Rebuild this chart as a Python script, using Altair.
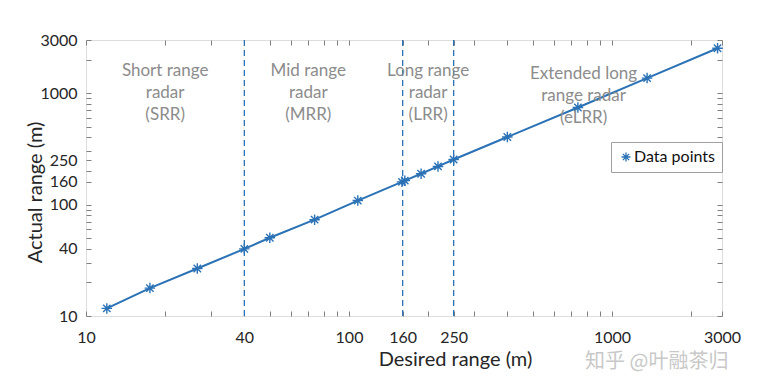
import altair as alt
import pandas as pd

# ---- data ----
desired = [12, 17.5, 26.5, 40, 50, 74, 108, 159, 163, 188, 218, 250, 400, 742, 1360, 2520]
actual = [11.7, 17.8, 26.7, 40, 50.4, 73.2, 108.7, 160, 164, 189, 220, 254, 404, 743, 1365, 2528]
series = ["Data points"] * len(desired)

boundaries = [40, 160, 250]

region_labels = ["Short range\nradar\n(SRR)", "Mid range\nradar\n(MRR)",
                 "Long range\nradar\n(LRR)", "Extended long\nrange radar\n(eLRR)"]
region_x = [20, 70, 200, 780]
region_y = [1850, 1850, 1850, 1750]

x_tick_values = [10, 40, 100, 160, 250, 1000, 2620]
x_tick_labels = ["10", "40", "100", "160", "250", "1000", "3000"]
y_tick_values = [10, 40, 100, 160, 250, 1000, 3000]
y_tick_labels = ["10", "40", "100", "160", "250", "1000", "3000"]
minor_ticks = [20, 30, 50, 60, 70, 80, 90, 200, 300, 400, 500, 600, 700, 800, 900, 2000]

x_domain = [10, 2620]
y_domain = [10, 3000]

watermark = "知乎 @叶融茶归"

# ---- layout / style ----
W, H = 636, 276
TL = 5  # inward tick length
BLUE = "#2a72b5"
TICK = "#808080"
FONT = "Lato"
STAR = "M0,-1L0,1M-1,0L1,0M-0.7,-0.7L0.7,0.7M-0.7,0.7L0.7,-0.7"

df = pd.DataFrame({"desired": desired, "actual": actual, "series": series})
bdf = pd.DataFrame({"b": boundaries})
tdf = pd.DataFrame({"x": region_x, "y": region_y, "label": region_labels})
wdf = pd.DataFrame({"t": [watermark]})

xs = alt.Scale(type="log", domain=x_domain, nice=False)
ys = alt.Scale(type="log", domain=y_domain, nice=False)


def label_expr(values, labels):
    vals = "[" + ",".join(str(v) for v in values) + "]"
    labs = "[" + ",".join("'%s'" % s for s in labels) + "]"
    return "indexof({v}, datum.value) >= 0 ? {l}[indexof({v}, datum.value)] : ''".format(v=vals, l=labs)


x_all = sorted(x_tick_values + minor_ticks)
y_all = sorted(y_tick_values + minor_ticks)

common = dict(domain=False, grid=False, tickColor=TICK, tickSize=TL, tickWidth=1, offset=-TL)

x_bottom = alt.Axis(values=x_all, labelExpr=label_expr(x_tick_values, x_tick_labels),
                    labelFont=FONT, labelFontSize=16, labelColor="#262626", labelPadding=13,
                    labelFlush=False, labelOverlap=False,
                    title="Desired range  (m)", titleFont=FONT, titleFontSize=20,
                    titleFontWeight="normal", titleColor="#262626",
                    titleX=369, titleY=43 + TL, titleAlign="center", titleBaseline="middle",
                    **common)
y_left = alt.Axis(values=y_all, labelExpr=label_expr(y_tick_values, y_tick_labels),
                  labelFont=FONT, labelFontSize=16, labelColor="#262626", labelPadding=9,
                  labelFlush=False, labelOverlap=False,
                  title="Actual range (m)", titleFont=FONT, titleFontSize=20,
                  titleFontWeight="normal", titleColor="#262626",
                  titleX=-51 - TL, titleY=152, titleAngle=270, titleAlign="center",
                  titleBaseline="middle", **common)
x_top = alt.Axis(orient="top", values=x_all, labels=False, title=None, **common)
y_right = alt.Axis(orient="right", values=y_all, labels=False, title=None, **common)

line = alt.Chart(df).mark_line(color=BLUE, strokeWidth=2).encode(
    x=alt.X("desired:Q", scale=xs, axis=x_bottom),
    y=alt.Y("actual:Q", scale=ys, axis=y_left),
    order="desired:Q",
)

points = alt.Chart(df).mark_point(shape=STAR, filled=False, size=110, strokeWidth=1.4, opacity=1).encode(
    x=alt.X("desired:Q", scale=xs, axis=x_top),
    y=alt.Y("actual:Q", scale=ys, axis=y_right),
    color=alt.Color("series:N", scale=alt.Scale(range=[BLUE]),
                    legend=alt.Legend(title=None, orient="none", legendX=525, legendY=102,
                                      fillColor="white", strokeColor="#a0a0a0", padding=7,
                                      labelFont=FONT, labelFontSize=16, labelColor="#111111",
                                      symbolType=STAR, symbolSize=80, symbolStrokeWidth=1.3,
                                      symbolFillColor="transparent", labelOffset=0,
                                      cornerRadius=0)),
)

rules = alt.Chart(bdf).mark_rule(color=BLUE, strokeDash=[6, 4], strokeWidth=1.3).encode(
    x=alt.X("b:Q", scale=xs, axis=None),
)

texts = alt.Chart(tdf).mark_text(font=FONT, fontSize=17, color="#8c8c8c", align="center",
                                 baseline="top", lineBreak="\n", lineHeight=22).encode(
    x=alt.X("x:Q", scale=xs, axis=None),
    y=alt.Y("y:Q", scale=ys, axis=None),
    text="label:N",
)

wm = alt.Chart(wdf).mark_text(font="Noto Sans CJK SC", fontSize=20, color="#c8c8c8",
                              align="left", baseline="middle").encode(
    x=alt.value(499), y=alt.value(322), text="t:N",
)

chart = alt.layer(line, points, rules, texts, wm).resolve_axis(
    x="independent", y="independent"
).properties(
    width=W, height=H,
    autosize=alt.AutoSizeParams(type="none"),
    padding={"left": 78, "top": 32, "right": 34, "bottom": 62},
).configure_view(stroke="#a0a0a0", strokeWidth=1).configure(background="white")

chart.save("out.html", embed_options={"renderer": "svg", "actions": False})
